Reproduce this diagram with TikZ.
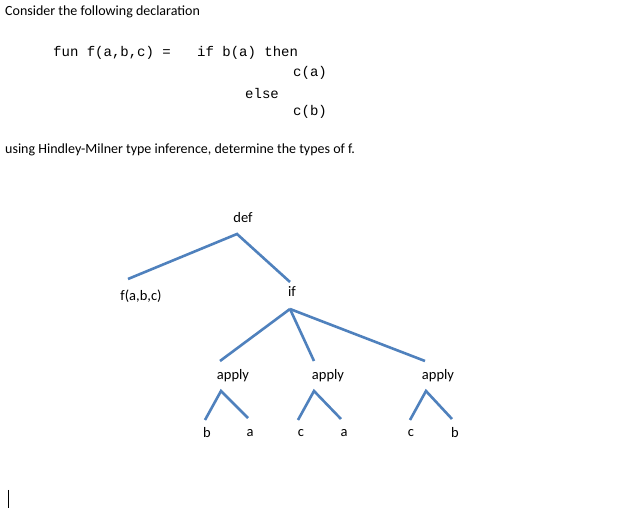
\documentclass[tikz,border=0pt]{standalone}
\usepackage{fontspec}
\setmainfont{Carlito}
\newfontfamily\codefont{Liberation Mono}
\begin{document}
\begin{tikzpicture}[x=1pt,y=-1pt,
  lbl/.style={inner sep=0pt,font=\fontsize{14.5}{16}\selectfont},
  txt/.style={inner sep=0pt,anchor=west,font=\fontsize{14}{16}\selectfont},
  code/.style={inner sep=0pt,anchor=west,font=\codefont\fontsize{14}{16}\selectfont},
  edge/.style={color={rgb,255:red,79;green,129;blue,189},line width=2.6pt}]
\useasboundingbox[fill=white] (0,0) rectangle (638,521);
\node[txt] (t1) at (5,12) {Consider the following declaration};
\node[code] (c1) at (53,53) {fun f(a,b,c) =};
\node[code] (c2) at (197,53) {if b(a) then};
\node[code] (c3) at (293,73) {c(a)};
\node[code] (c4) at (245,93) {else};
\node[code] (c5) at (293,112) {c(b)};
\node[txt] (t2) at (5,150) {using Hindley-Milner type inference, determine the types of f.};
\node[lbl] (def) at (243,218) {def};
\node[lbl] (f) at (141,296) {f(a,b,c)};
\node[lbl] (if) at (292,292) {if};
\node[lbl] (ap1) at (233,376) {apply};
\node[lbl] (ap2) at (328,376) {apply};
\node[lbl] (ap3) at (438,376) {apply};
\node[lbl] (b1) at (207,433) {b};
\node[lbl] (a1) at (250,433) {a};
\node[lbl] (c6) at (301,433) {c};
\node[lbl] (a2) at (344,433) {a};
\node[lbl] (c7) at (411,433) {c};
\node[lbl] (b2) at (455,433) {b};
\coordinate (d0) at (237,234); \coordinate (d1) at (128,279); \coordinate (d2) at (290,282);
\coordinate (i0) at (290,309); \coordinate (i1) at (220,361); \coordinate (i2) at (314,361); \coordinate (i3) at (425,361);
\coordinate (p1) at (221,391); \coordinate (p1l) at (205,420); \coordinate (p1r) at (248,418);
\coordinate (p2) at (314,391); \coordinate (p2l) at (298,420); \coordinate (p2r) at (341,419);
\coordinate (p3) at (426,391); \coordinate (p3l) at (410,420); \coordinate (p3r) at (452,419);
\draw[edge] (d1) -- (d0) -- (d2);
\draw[edge] (i0) -- (i1); \draw[edge] (i0) -- (i2); \draw[edge] (i0) -- (i3);
\draw[edge] (p1l) -- (p1) -- (p1r);
\draw[edge] (p2l) -- (p2) -- (p2r);
\draw[edge] (p3l) -- (p3) -- (p3r);
\coordinate (k0) at (8,490); \coordinate (k1) at (8,508);
\draw[line width=0.8pt] (k0) -- (k1);
\end{tikzpicture}
\end{document}
